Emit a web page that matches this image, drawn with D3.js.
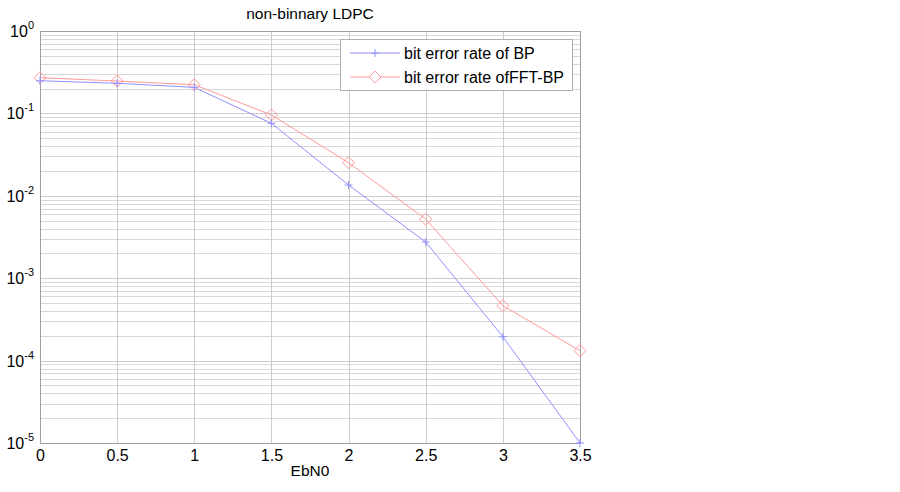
<!DOCTYPE html>
<html>
<head>
<meta charset="utf-8">
<script src="https://cdn.jsdelivr.net/npm/d3@7"></script>
<style>
  body { margin: 0; background: #fff; }
  text { font-family: "Liberation Sans", Arial, sans-serif; }
</style>
</head>
<body>
<div id="chart"></div>
<script>
// Data
var ebn0 = [0, 0.5, 1, 1.5, 2, 2.5, 3, 3.5];
var berBP = [0.249, 0.232, 0.207, 0.0758, 0.0135, 0.00275, 0.000195, 0.00001];
var berFFT = [0.271, 0.247, 0.223, 0.0957, 0.0252, 0.0052, 0.000464, 0.000132];
var xTicks = [0, 0.5, 1, 1.5, 2, 2.5, 3, 3.5];
var yExponents = [0, -1, -2, -3, -4, -5];
var seriesNames = ["bit error rate of BP", "bit error rate ofFFT-BP"];

var margin = {top: 31, right: 320, bottom: 49, left: 40},
    width = 900 - margin.left - margin.right,
    height = 492 - margin.top - margin.bottom;

var svg = d3.select("#chart").append("svg")
    .attr("width", 900)
    .attr("height", 492)
  .append("g")
    .attr("transform", "translate(" + margin.left + "," + margin.top + ")");

// Set ranges
var x = d3.scaleLinear().domain([0, 3.5]).range([0, width]);
var y = d3.scaleLog().domain([1e-5, 1]).range([height, 0]);

// Minor grid (2..9 of each decade)
var minor = [];
yExponents.slice(0, -1).forEach(function(e) {
  for (var k = 2; k <= 9; k++) minor.push(k * Math.pow(10, e - 1));
});
svg.append("g").selectAll("line")
    .data(minor)
    .enter().append("line")
    .attr("x1", 0).attr("x2", width)
    .attr("y1", function(d) { return Math.round(y(d)) + 0.5; })
    .attr("y2", function(d) { return Math.round(y(d)) + 0.5; })
    .attr("stroke", "#d8d8d8");

// Major grid
svg.append("g").selectAll("line")
    .data(yExponents)
    .enter().append("line")
    .attr("x1", 0).attr("x2", width)
    .attr("y1", function(d) { return Math.round(y(Math.pow(10, d))) + 0.5; })
    .attr("y2", function(d) { return Math.round(y(Math.pow(10, d))) + 0.5; })
    .attr("stroke", "#cccccc");
svg.append("g").selectAll("line")
    .data(xTicks)
    .enter().append("line")
    .attr("x1", function(d) { return Math.round(x(d)) + 0.5; })
    .attr("x2", function(d) { return Math.round(x(d)) + 0.5; })
    .attr("y1", 0).attr("y2", height)
    .attr("stroke", "#cccccc");

// Axes box
svg.append("rect")
    .attr("x", 0.5).attr("y", 0.5)
    .attr("width", width).attr("height", height)
    .attr("fill", "none")
    .attr("stroke", "#a0a0a0");

// x axis
var xAxis = svg.append("g")
    .attr("transform", "translate(0," + height + ")")
    .call(d3.axisBottom(x).tickValues(xTicks).tickSize(0).tickPadding(7)
      .tickFormat(function(d) { return d; }));
xAxis.select(".domain").remove();
xAxis.selectAll("text").attr("font-size", 16).attr("fill", "#000")
    .attr("font-family", "Liberation Sans, Arial, sans-serif");

// y axis with 10^n labels
var yAxis = svg.append("g");
var yl = yAxis.selectAll("text")
    .data(yExponents)
    .enter().append("text")
    .attr("x", -6)
    .attr("y", function(d) { return y(Math.pow(10, d)) + 6; })
    .attr("text-anchor", "end")
    .attr("font-size", 16);
yl.append("tspan").text("10");
yl.append("tspan").attr("dy", -8).attr("font-size", 11).text(function(d) { return d; });

// Series lines
var line = d3.line()
    .x(function(d) { return x(d[0]); })
    .y(function(d) { return y(d[1]); });

var bpData = d3.zip(ebn0, berBP);
var fftData = d3.zip(ebn0, berFFT);
var blue = "#9090ff", red = "#ff9a9a";

svg.append("path").datum(fftData)
    .attr("d", line).attr("fill", "none").attr("stroke", red);
svg.append("path").datum(bpData)
    .attr("d", line).attr("fill", "none").attr("stroke", blue);

// Markers
var diamond = "M0,-6L6,0L0,6L-6,0Z";
var plus = "M-4,0H4M0,-4V4";
svg.append("g").selectAll("path")
    .data(fftData)
    .enter().append("path")
    .attr("d", diamond)
    .attr("transform", function(d) { return "translate(" + x(d[0]) + "," + y(d[1]) + ")"; })
    .attr("fill", "none").attr("stroke", red);
svg.append("g").selectAll("path")
    .data(bpData)
    .enter().append("path")
    .attr("d", plus)
    .attr("transform", function(d) { return "translate(" + x(d[0]) + "," + y(d[1]) + ")"; })
    .attr("fill", "none").attr("stroke", blue);

// Title and x label
svg.append("text")
    .attr("x", width / 2).attr("y", -12)
    .attr("text-anchor", "middle")
    .attr("font-size", 15.5)
    .text("non-binnary LDPC");
svg.append("text")
    .attr("x", width / 2).attr("y", height + 33)
    .attr("text-anchor", "middle")
    .attr("font-size", 15.5)
    .text("EbN0");

// Legend
var legend = svg.append("g").attr("transform", "translate(300,8)");
legend.append("rect")
    .attr("x", 0.5).attr("y", 0.5)
    .attr("width", 232).attr("height", 51)
    .attr("fill", "#fff").attr("stroke", "#b0b0b0");
var colors = [blue, red], marks = [plus, diamond];
seriesNames.forEach(function(name, i) {
  var g = legend.append("g").attr("transform", "translate(0," + (14 + i * 24) + ")");
  g.append("line").attr("x1", 10).attr("x2", 60).attr("stroke", colors[i]);
  g.append("path").attr("d", marks[i]).attr("transform", "translate(35,0)")
      .attr("fill", "#fff").attr("stroke", colors[i]);
  g.append("text").attr("x", 64).attr("y", 6).attr("font-size", 16).text(name);
});
</script>
</body>
</html>
